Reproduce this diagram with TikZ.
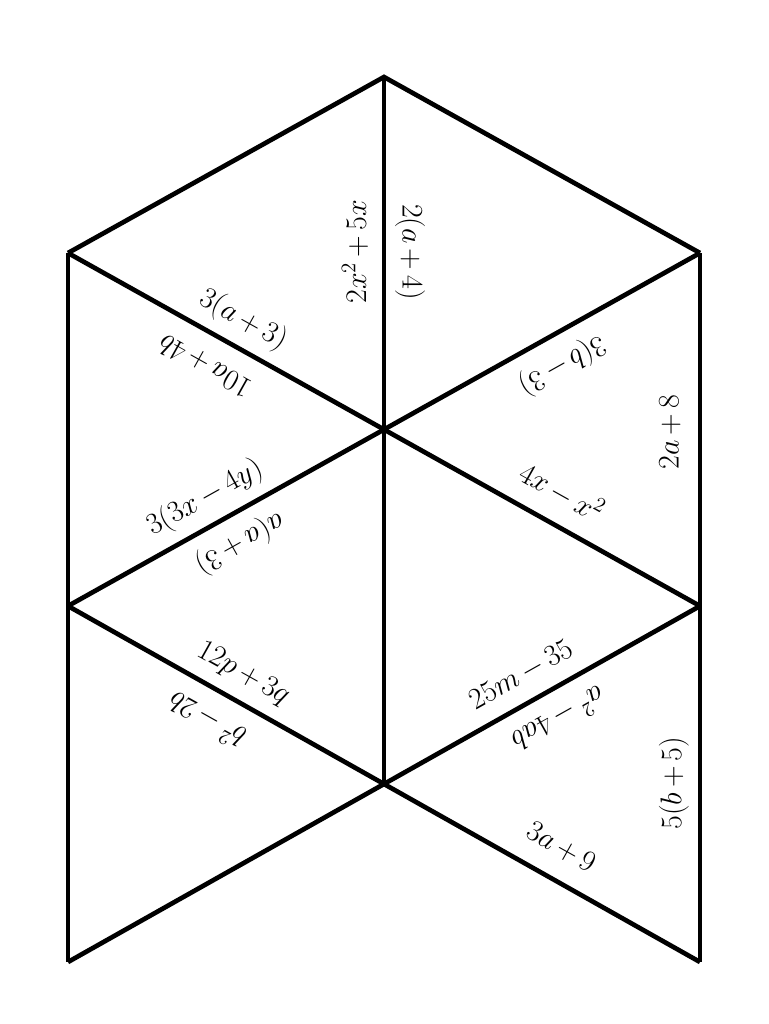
\documentclass[tikz,border=0pt]{standalone}
\begin{document}
\begin{tikzpicture}[x=0.75pt,y=-0.75pt,
  edge/.style={line width=3.5pt, line join=miter, line cap=butt},
  lab/.style={font=\fontsize{17.28}{20}\selectfont, inner sep=0pt, scale=1.3, transform shape}]
\medmuskip=3mu\relax
\useasboundingbox (0,0) rectangle (768,1024);
\def\ang{29.25}
\coordinate (T) at (384,77);
\coordinate (LT) at (68,253);
\coordinate (RT) at (700,253);
\coordinate (C) at (384,430);
\coordinate (LM) at (68,606);
\coordinate (RM) at (700,606);
\coordinate (CB) at (384,783);
\coordinate (LB) at (68,962);
\coordinate (RB) at (700,962);
\draw[edge] (LT) -- (T) -- (RT);
\draw[edge] (T) -- (CB);
\draw[edge] (LT) -- (LB);
\draw[edge] (RT) -- (RB);
\draw[edge] (LT) -- (RM);
\draw[edge] (RT) -- (LM);
\draw[edge] (LM) -- (RB);
\draw[edge] (RM) -- (LB);
% labels
\node[lab, rotate=90] (l1) at (355,252) {$2x^2+5x$};
\node[lab, rotate=-90] (l2) at (410,252) {$2(a+4)$};
\node[lab, rotate=-\ang] (l3) at (243,320) {$3(a+3)$};
\node[lab, rotate=180-\ang] (l4) at (205,366) {$10a+4b$};
\node[lab, rotate=180+\ang] (l5) at (562,365) {$3(b-3)$};
\node[lab, rotate=90] (l6) at (670,432) {$2a+8$};
\node[lab, rotate=\ang] (l7) at (205,498) {$3(3x-4y)$};
\node[lab, rotate=180+\ang] (l8) at (240,543) {$a(a+3)$};
\node[lab, rotate=-\ang] (l9) at (562,492) {$4x-x^2$};
\node[lab, rotate=-\ang] (l10) at (243,674) {$12p+3q$};
\node[lab, rotate=180-\ang] (l11) at (207,720) {$b^2-2b$};
\node[lab, rotate=\ang] (l12) at (521,675) {$25m-35$};
\node[lab, rotate=180+\ang] (l13) at (559,719) {$a^2-4ab$};
\node[lab, rotate=90] (l14) at (674,783) {$5(b+5)$};
\node[lab, rotate=-\ang] (l15) at (561,847) {$3a+9$};
\end{tikzpicture}
\end{document}
